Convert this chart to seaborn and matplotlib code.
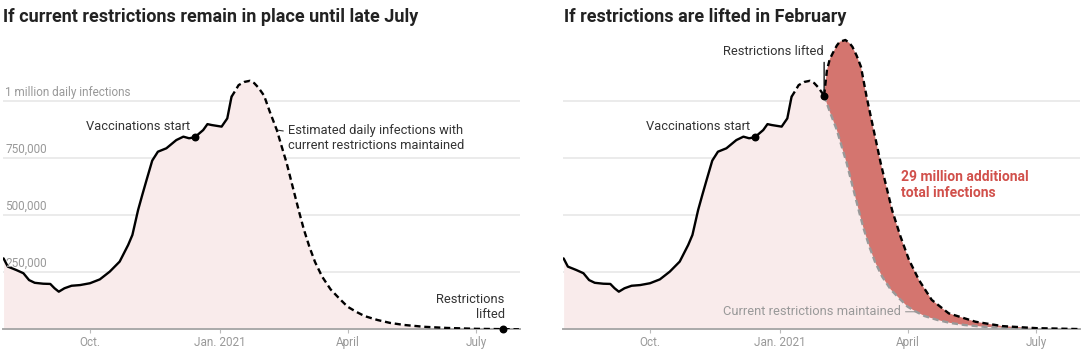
import numpy as np
import pandas as pd
import matplotlib
matplotlib.use('Agg')
import matplotlib.pyplot as plt
from matplotlib import font_manager
import seaborn as sns

# observed daily infections (solid line), thousands
obs_dates = ['2020-08-01', '2020-08-04', '2020-08-10', '2020-08-15', '2020-08-19',
             '2020-08-23', '2020-08-29', '2020-09-03', '2020-09-06', '2020-09-09',
             '2020-09-13', '2020-09-18', '2020-09-24', '2020-10-01', '2020-10-08',
             '2020-10-15', '2020-10-22', '2020-10-28', '2020-10-31', '2020-11-04',
             '2020-11-07', '2020-11-10', '2020-11-14', '2020-11-18', '2020-11-24',
             '2020-12-01', '2020-12-06', '2020-12-10', '2020-12-14', '2020-12-20',
             '2020-12-23', '2020-12-26', '2021-01-02', '2021-01-06', '2021-01-09']
obs_values = [311, 275, 260, 246, 216, 204, 200, 199, 180, 165,
              180, 191, 194, 202, 219, 253, 297, 370, 414, 523,
              590, 655, 740, 779, 794, 830, 845, 838, 842, 874,
              900, 896, 889, 925, 1020]

# projection with current restrictions maintained
proj_dates = ['2021-01-09', '2021-01-12', '2021-01-14', '2021-01-18', '2021-01-22',
              '2021-01-25', '2021-01-28', '2021-02-01', '2021-02-05', '2021-02-10',
              '2021-02-14', '2021-02-17', '2021-02-21', '2021-02-26', '2021-03-01',
              '2021-03-05', '2021-03-09', '2021-03-14', '2021-03-20', '2021-03-26',
              '2021-04-01', '2021-04-07', '2021-04-13', '2021-04-22', '2021-05-01',
              '2021-05-11', '2021-05-25', '2021-06-10', '2021-07-01', '2021-07-31']
proj_values = [1020, 1050, 1071, 1085, 1090, 1080, 1060, 1025, 955, 874,
               790, 728, 630, 509, 440, 362, 295, 231, 175, 136,
               99, 77, 58, 41, 28, 19, 11, 6, 2, 0]

# projection if restrictions are lifted in February
lift_dates = ['2021-02-01', '2021-02-03', '2021-02-05', '2021-02-07', '2021-02-10',
              '2021-02-12', '2021-02-16', '2021-02-19', '2021-02-21', '2021-02-24',
              '2021-02-27', '2021-03-03', '2021-03-08', '2021-03-13', '2021-03-17',
              '2021-03-21', '2021-03-27', '2021-04-02', '2021-04-09', '2021-04-18',
              '2021-04-30', '2021-05-19', '2021-06-07', '2021-07-01', '2021-07-31']
lift_values = [1025, 1137, 1185, 1210, 1245, 1261, 1269, 1255, 1239, 1200,
               1152, 1020, 874, 728, 625, 523, 406, 304, 216, 129,
               70, 33, 14, 5, 1]

vacc_date = '2020-12-14'
lifted_feb = '2021-02-01'
lifted_july = '2021-07-20'

grid_values = [250000, 500000, 750000, 1000000]
grid_labels = ['250,000', '500,000', '750,000', '1 million daily infections']
tick_dates = ['2020-10-01', '2021-01-01', '2021-04-01', '2021-07-01']
tick_labels = ['Oct.', 'Jan. 2021', 'April', 'July']

obs = pd.DataFrame({'date': pd.to_datetime(obs_dates), 'inf': np.array(obs_values) * 1000})
proj = pd.DataFrame({'date': pd.to_datetime(proj_dates), 'inf': np.array(proj_values) * 1000})
lift = pd.DataFrame({'date': pd.to_datetime(lift_dates), 'inf': np.array(lift_values) * 1000})

sns.set_theme(style='white')
names = {f.name for f in font_manager.fontManager.ttflist}
narrow = 'Liberation Sans Narrow' if 'Liberation Sans Narrow' in names else 'Roboto'
plt.rcParams['font.family'] = ['Roboto', 'DejaVu Sans']

pink = '#f9ebeb'
red = '#d4756f'
dash = (0, (2.6, 1.6))
lw = 1.7

fig = plt.figure(figsize=(10.9, 3.61), dpi=100)
ax1 = fig.add_axes([0.003, 0.0878, 0.474, 0.821])
ax2 = fig.add_axes([0.5168, 0.0878, 0.474, 0.821])


def setup(ax, labels):
    ax.set_xlim(pd.Timestamp('2020-07-31 19:00'), pd.Timestamp('2021-07-31 17:00'))
    ax.set_ylim(0, 1300000)
    for s in ['top', 'right', 'left']:
        ax.spines[s].set_visible(False)
    ax.spines['bottom'].set_color('#aaaaaa')
    ax.spines['bottom'].set_linewidth(1.4)
    ax.set_yticks(grid_values)
    ax.set_yticklabels([])
    ax.tick_params(axis='y', length=0)
    ax.yaxis.grid(True, color='#e6e6e6', lw=1.1)
    ax.set_axisbelow(True)
    ax.set_xticks(pd.to_datetime(tick_dates))
    ax.set_xticklabels(tick_labels)
    ax.tick_params(axis='x', bottom=True, length=3, width=0.8, color='#bbbbbb',
                   labelcolor='#999999', labelsize=8.5, pad=2)
    ax.set_xlabel('')
    ax.set_ylabel('')
    if labels:
        for v, lab in zip(grid_values, grid_labels):
            ax.annotate(lab, xy=(0.004, v), xycoords=ax.get_yaxis_transform(),
                        xytext=(0, 2), textcoords='offset points',
                        ha='left', va='bottom', fontsize=8.5, color='#999999')


# left panel
ax = ax1
ax.fill_between(obs['date'], 0, obs['inf'], color=pink, lw=0, zorder=1)
ax.fill_between(proj['date'], 0, proj['inf'], color=pink, lw=0, zorder=1)
sns.lineplot(data=obs, x='date', y='inf', ax=ax, color='black', lw=lw, zorder=3)
sns.lineplot(data=proj, x='date', y='inf', ax=ax, color='black', lw=lw,
             linestyle=dash, zorder=3)
setup(ax, True)

v = obs.set_index('date').loc[vacc_date, 'inf']
ax.scatter([pd.Timestamp(vacc_date)], [v], s=22, color='black', zorder=5)
ax.annotate('Vaccinations start', xy=(pd.Timestamp(vacc_date), v), xytext=(-3, 8),
            textcoords='offset points', ha='right', va='center', fontsize=9.3, color='#333333')

ax.scatter([pd.Timestamp(lifted_july)], [0], s=22, color='black', zorder=5, clip_on=False)
ax.annotate('Restrictions\nlifted', xy=(pd.Timestamp(lifted_july), 0), xytext=(1, 16),
            textcoords='offset points', ha='right', va='center', multialignment='right',
            fontsize=9.3, color='#333333', linespacing=1.2)

p = proj.set_index('date').loc['2021-02-10', 'inf']
ax.annotate('Estimated daily infections with\ncurrent restrictions maintained',
            xy=(pd.Timestamp('2021-02-10'), p), xytext=(8, -6), textcoords='offset points',
            ha='left', va='center', fontsize=9.3, color='#333333', linespacing=1.2,
            arrowprops=dict(arrowstyle='-', color='#333333', lw=0.8,
                            relpos=(0, 0.74), shrinkA=1, shrinkB=1))

# right panel
ax = ax2
ax.fill_between(obs['date'], 0, obs['inf'], color=pink, lw=0, zorder=1)
ax.fill_between(proj['date'], 0, proj['inf'], color=pink, lw=0, zorder=1)
after = proj[proj['date'] >= pd.Timestamp(lifted_feb)]
before = proj[proj['date'] <= pd.Timestamp(lifted_feb)]
poly_x = list(lift['date']) + list(after['date'])[::-1]
poly_y = list(lift['inf']) + list(after['inf'])[::-1]
ax.fill(poly_x, poly_y, color=red, lw=0, zorder=2)
sns.lineplot(data=obs, x='date', y='inf', ax=ax, color='black', lw=lw, zorder=3)
sns.lineplot(data=before, x='date', y='inf', ax=ax, color='black', lw=lw,
             linestyle=dash, zorder=3)
sns.lineplot(data=after, x='date', y='inf', ax=ax, color='#999999', lw=lw,
             linestyle=dash, zorder=3)
sns.lineplot(data=lift, x='date', y='inf', ax=ax, color='black', lw=lw,
             linestyle=dash, zorder=4)
setup(ax, False)

ax.scatter([pd.Timestamp(vacc_date)], [v], s=22, color='black', zorder=5)
ax.annotate('Vaccinations start', xy=(pd.Timestamp(vacc_date), v), xytext=(-3, 8),
            textcoords='offset points', ha='right', va='center', fontsize=9.3, color='#333333')

lv = lift.set_index('date').loc[lifted_feb, 'inf']
ax.scatter([pd.Timestamp(lifted_feb)], [lv], s=22, color='black', zorder=6)
ax.annotate('Restrictions lifted', xy=(pd.Timestamp(lifted_feb), lv), xytext=(0, 32),
            textcoords='offset points', ha='right', va='center', fontsize=9.3, color='#333333',
            arrowprops=dict(arrowstyle='-', color='black', lw=0.9,
                            relpos=(1, 0), shrinkA=1, shrinkB=2))

c = proj.set_index('date').loc['2021-04-07', 'inf']
ax.annotate('Current restrictions maintained', xy=(pd.Timestamp('2021-04-07'), c),
            xytext=(-11, 0), textcoords='offset points', ha='right', va='center',
            fontsize=9.3, color='#999999',
            arrowprops=dict(arrowstyle='-', color='#999999', lw=0.8,
                            relpos=(1, 0.5), shrinkA=1, shrinkB=1))

ax.text(0.654, 0.486, '29 million additional\ntotal infections', transform=ax.transAxes,
        ha='left', va='center', fontsize=10, fontweight='bold', color='#d1504b',
        family=[narrow, 'DejaVu Sans'], linespacing=1.15)

fig.text(0.003, 1 - 17 / 361, 'If current restrictions remain in place until late July',
         ha='left', va='center', fontsize=13, fontweight='bold', color='#222222',
         family=[narrow, 'DejaVu Sans'])
fig.text(564 / 1090, 1 - 17 / 361, 'If restrictions are lifted in February',
         ha='left', va='center', fontsize=13, fontweight='bold', color='#222222',
         family=[narrow, 'DejaVu Sans'])

fig.savefig('out.png', dpi=100)
